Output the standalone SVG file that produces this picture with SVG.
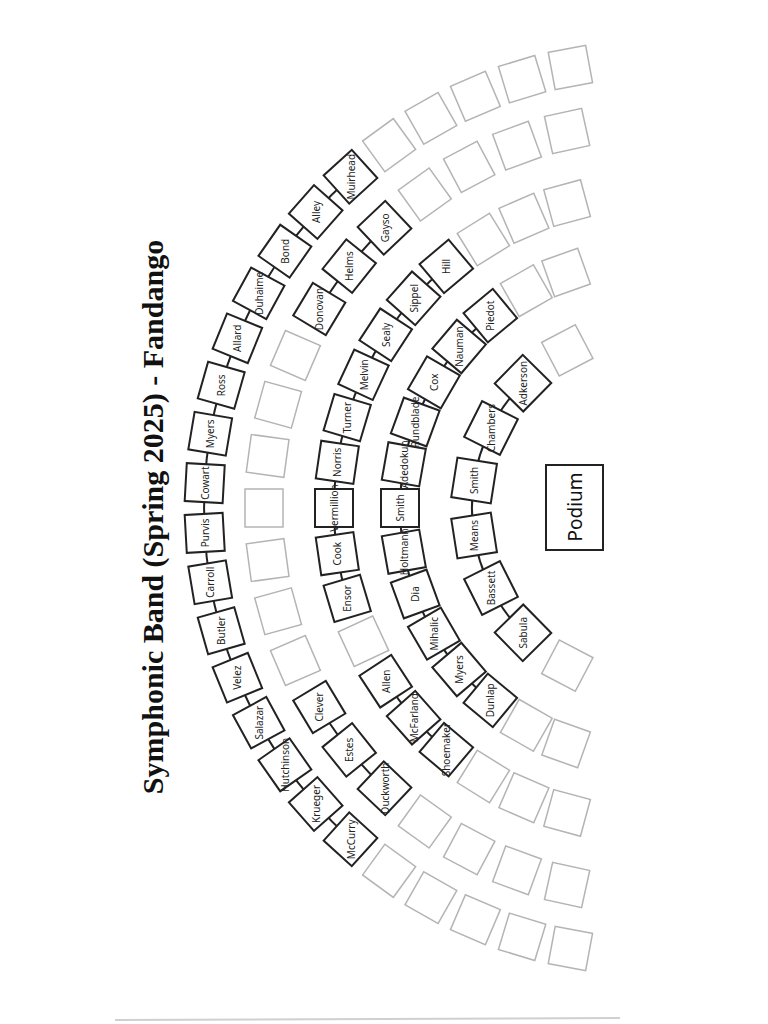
<svg xmlns="http://www.w3.org/2000/svg" width="768" height="1024" viewBox="0 0 768 1024">
<style>
.b{fill:#fff;stroke:#222;stroke-width:2}
.e{fill:#fff;stroke:#b4b4b4;stroke-width:1.5}
.t{font-family:"Noto Sans","DejaVu Sans",sans-serif;font-size:10px;fill:#222;text-anchor:middle;dominant-baseline:central}
.c{fill:none;stroke:#222;stroke-width:2}
</style>
<rect width="768" height="1024" fill="#fff"/>
<line x1="115" y1="1020" x2="620" y2="1018" stroke="#d0d0d0" stroke-width="2"/>
<text id="title" transform="translate(163,517) rotate(-90)" font-family="Liberation Serif,serif" font-weight="bold" font-size="30" text-anchor="middle" fill="#111">Symphonic Band (Spring 2025) - Fandango</text>
<g id="podium"><rect x="546" y="465" width="57" height="85" fill="#fff" stroke="#222" stroke-width="2"/><text transform="translate(575,507) rotate(-90)" font-family="Noto Sans,sans-serif" font-size="19" text-anchor="middle" dominant-baseline="central" fill="#111">Podium</text></g>
<g id="connectors">
<path class="c" d="M350.5,176.7 A448,448 0 0 0 350.5,839.3"/>
<path class="c" d="M384.5,227.8 A386,386 0 0 0 319.3,309"/>
<path class="c" d="M319.3,707 A386,386 0 0 0 384.5,788.2"/>
<path class="c" d="M446.3,266.4 A316,316 0 0 0 347.2,598.4"/>
<path class="c" d="M385.7,681.2 A316,316 0 0 0 446.3,749.6"/>
<path class="c" d="M490.3,315.7 A250,250 0 0 0 490.3,700.3"/>
<path class="c" d="M523,383.2 A178,178 0 0 0 523,632.8"/>
</g>
<g id="empty-seats">
<rect class="e" x="-19" y="-19" width="38" height="38" transform="translate(570.4,67.5) rotate(79.5)"/>
<rect class="e" x="-19" y="-19" width="38" height="38" transform="translate(522.1,79.2) rotate(73.14)"/>
<rect class="e" x="-19" y="-19" width="38" height="38" transform="translate(475.4,96.3) rotate(66.78)"/>
<rect class="e" x="-19" y="-19" width="38" height="38" transform="translate(430.9,118.4) rotate(60.42)"/>
<rect class="e" x="-19" y="-19" width="38" height="38" transform="translate(389.1,145.2) rotate(54.06)"/>
<rect class="e" x="-19" y="-19" width="38" height="38" transform="translate(389.1,870.8) rotate(-54.06)"/>
<rect class="e" x="-19" y="-19" width="38" height="38" transform="translate(430.9,897.6) rotate(-60.42)"/>
<rect class="e" x="-19" y="-19" width="38" height="38" transform="translate(475.4,919.7) rotate(-66.78)"/>
<rect class="e" x="-19" y="-19" width="38" height="38" transform="translate(522.1,936.8) rotate(-73.14)"/>
<rect class="e" x="-19" y="-19" width="38" height="38" transform="translate(570.4,948.5) rotate(-79.5)"/>
<rect class="e" x="-19" y="-19" width="38" height="38" transform="translate(567.1,131) rotate(77.6)"/>
<rect class="e" x="-19" y="-19" width="38" height="38" transform="translate(517,145.7) rotate(69.84)"/>
<rect class="e" x="-19" y="-19" width="38" height="38" transform="translate(469.2,166.9) rotate(62.08)"/>
<rect class="e" x="-19" y="-19" width="38" height="38" transform="translate(424.8,194.5) rotate(54.32)"/>
<rect class="e" x="-19" y="-19" width="38" height="38" transform="translate(295.4,355.5) rotate(23.28)"/>
<rect class="e" x="-19" y="-19" width="38" height="38" transform="translate(278.1,404.7) rotate(15.52)"/>
<rect class="e" x="-19" y="-19" width="38" height="38" transform="translate(267.6,455.9) rotate(7.76)"/>
<rect class="e" x="-19" y="-19" width="38" height="38" transform="translate(264,508)"/>
<rect class="e" x="-19" y="-19" width="38" height="38" transform="translate(267.6,560.1) rotate(-7.76)"/>
<rect class="e" x="-19" y="-19" width="38" height="38" transform="translate(278.1,611.3) rotate(-15.52)"/>
<rect class="e" x="-19" y="-19" width="38" height="38" transform="translate(295.4,660.5) rotate(-23.28)"/>
<rect class="e" x="-19" y="-19" width="38" height="38" transform="translate(424.8,821.5) rotate(-54.32)"/>
<rect class="e" x="-19" y="-19" width="38" height="38" transform="translate(469.2,849.1) rotate(-62.08)"/>
<rect class="e" x="-19" y="-19" width="38" height="38" transform="translate(517,870.3) rotate(-69.84)"/>
<rect class="e" x="-19" y="-19" width="38" height="38" transform="translate(567.1,885) rotate(-77.6)"/>
<rect class="e" x="-19" y="-19" width="38" height="38" transform="translate(567.1,203.1) rotate(74.8)"/>
<rect class="e" x="-19" y="-19" width="38" height="38" transform="translate(523.9,218.2) rotate(66.49)"/>
<rect class="e" x="-19" y="-19" width="38" height="38" transform="translate(483.4,239.5) rotate(58.18)"/>
<rect class="e" x="-19" y="-19" width="38" height="38" transform="translate(363.5,641.2) rotate(-24.93)"/>
<rect class="e" x="-19" y="-19" width="38" height="38" transform="translate(483.4,776.5) rotate(-58.18)"/>
<rect class="e" x="-19" y="-19" width="38" height="38" transform="translate(523.9,797.8) rotate(-66.49)"/>
<rect class="e" x="-19" y="-19" width="38" height="38" transform="translate(567.1,812.9) rotate(-74.8)"/>
<rect class="e" x="-19" y="-19" width="38" height="38" transform="translate(566.1,272.5) rotate(70.4)"/>
<rect class="e" x="-19" y="-19" width="38" height="38" transform="translate(526.3,290.7) rotate(60.34)"/>
<rect class="e" x="-19" y="-19" width="38" height="38" transform="translate(526.3,725.3) rotate(-60.34)"/>
<rect class="e" x="-19" y="-19" width="38" height="38" transform="translate(566.1,743.5) rotate(-70.4)"/>
<rect class="e" x="-19" y="-19" width="38" height="38" transform="translate(567.3,350.4) rotate(62.3)"/>
<rect class="e" x="-19" y="-19" width="38" height="38" transform="translate(567.3,665.6) rotate(-62.3)"/>
</g>
<g id="row1">
<g id="muirhead" transform="translate(350.5,176.7)"><rect class="b" x="-19" y="-19" width="38" height="38" transform="rotate(47.7)"/><text class="t" transform="rotate(-90)">Muirhead</text></g>
<g id="alley" transform="translate(315.7,212)"><rect class="b" x="-19" y="-19" width="38" height="38" transform="rotate(41.34)"/><text class="t" transform="rotate(-90)">Alley</text></g>
<g id="bond" transform="translate(284.9,251.2)"><rect class="b" x="-19" y="-19" width="38" height="38" transform="rotate(34.98)"/><text class="t" transform="rotate(-90)">Bond</text></g>
<g id="duhaime" transform="translate(258.7,293.3)"><rect class="b" x="-19" y="-19" width="38" height="38" transform="rotate(28.62)"/><text class="t" transform="rotate(-90)">Duhaime</text></g>
<g id="allard" transform="translate(237.4,338.3)"><rect class="b" x="-19" y="-19" width="38" height="38" transform="rotate(22.26)"/><text class="t" transform="rotate(-90)">Allard</text></g>
<g id="ross" transform="translate(221.2,385.3)"><rect class="b" x="-19" y="-19" width="38" height="38" transform="rotate(15.9)"/><text class="t" transform="rotate(-90)">Ross</text></g>
<g id="myers1" transform="translate(210.2,433.8)"><rect class="b" x="-19" y="-19" width="38" height="38" transform="rotate(9.54)"/><text class="t" transform="rotate(-90)">Myers</text></g>
<g id="cowart" transform="translate(204.7,483.1)"><rect class="b" x="-19" y="-19" width="38" height="38" transform="rotate(3.18)"/><text class="t" transform="rotate(-90)">Cowart</text></g>
<g id="purvis" transform="translate(204.7,532.9)"><rect class="b" x="-19" y="-19" width="38" height="38" transform="rotate(-3.18)"/><text class="t" transform="rotate(-90)">Purvis</text></g>
<g id="carroll" transform="translate(210.2,582.2)"><rect class="b" x="-19" y="-19" width="38" height="38" transform="rotate(-9.54)"/><text class="t" transform="rotate(-90)">Carroll</text></g>
<g id="butler" transform="translate(221.2,630.7)"><rect class="b" x="-19" y="-19" width="38" height="38" transform="rotate(-15.9)"/><text class="t" transform="rotate(-90)">Butler</text></g>
<g id="velez" transform="translate(237.4,677.7)"><rect class="b" x="-19" y="-19" width="38" height="38" transform="rotate(-22.26)"/><text class="t" transform="rotate(-90)">Velez</text></g>
<g id="salazar" transform="translate(258.7,722.7)"><rect class="b" x="-19" y="-19" width="38" height="38" transform="rotate(-28.62)"/><text class="t" transform="rotate(-90)">Salazar</text></g>
<g id="hutchinson" transform="translate(284.9,764.8)"><rect class="b" x="-19" y="-19" width="38" height="38" transform="rotate(-34.98)"/><text class="t" transform="rotate(-90)">Hutchinson</text></g>
<g id="krueger" transform="translate(315.7,804)"><rect class="b" x="-19" y="-19" width="38" height="38" transform="rotate(-41.34)"/><text class="t" transform="rotate(-90)">Krueger</text></g>
<g id="mccurry" transform="translate(350.5,839.3)"><rect class="b" x="-19" y="-19" width="38" height="38" transform="rotate(-47.7)"/><text class="t" transform="rotate(-90)">McCurry</text></g>
</g>
<g id="row2">
<g id="gayso" transform="translate(384.5,227.8)"><rect class="b" x="-19" y="-19" width="38" height="38" transform="rotate(46.56)"/><text class="t" transform="rotate(-90)">Gayso</text></g>
<g id="helms" transform="translate(349.2,266.1)"><rect class="b" x="-19" y="-19" width="38" height="38" transform="rotate(38.8)"/><text class="t" transform="rotate(-90)">Helms</text></g>
<g id="donovan" transform="translate(319.3,309)"><rect class="b" x="-19" y="-19" width="38" height="38" transform="rotate(31.04)"/><text class="t" transform="rotate(-90)">Donovan</text></g>
<g id="clever" transform="translate(319.3,707)"><rect class="b" x="-19" y="-19" width="38" height="38" transform="rotate(-31.04)"/><text class="t" transform="rotate(-90)">Clever</text></g>
<g id="estes" transform="translate(349.2,749.9)"><rect class="b" x="-19" y="-19" width="38" height="38" transform="rotate(-38.8)"/><text class="t" transform="rotate(-90)">Estes</text></g>
<g id="duckworth" transform="translate(384.5,788.2)"><rect class="b" x="-19" y="-19" width="38" height="38" transform="rotate(-46.56)"/><text class="t" transform="rotate(-90)">Duckworth</text></g>
</g>
<g id="row3">
<g id="hill" transform="translate(446.3,266.4)"><rect class="b" x="-19" y="-19" width="38" height="38" transform="rotate(49.87)"/><text class="t" transform="rotate(-90)">Hill</text></g>
<g id="sippel" transform="translate(413.6,298.3)"><rect class="b" x="-19" y="-19" width="38" height="38" transform="rotate(41.56)"/><text class="t" transform="rotate(-90)">Sippel</text></g>
<g id="sealy" transform="translate(385.7,334.8)"><rect class="b" x="-19" y="-19" width="38" height="38" transform="rotate(33.24)"/><text class="t" transform="rotate(-90)">Sealy</text></g>
<g id="melvin" transform="translate(363.5,374.8)"><rect class="b" x="-19" y="-19" width="38" height="38" transform="rotate(24.93)"/><text class="t" transform="rotate(-90)">Melvin</text></g>
<g id="turner" transform="translate(347.2,417.6)"><rect class="b" x="-19" y="-19" width="38" height="38" transform="rotate(16.62)"/><text class="t" transform="rotate(-90)">Turner</text></g>
<g id="norris" transform="translate(337.3,462.3)"><rect class="b" x="-19" y="-19" width="38" height="38" transform="rotate(8.31)"/><text class="t" transform="rotate(-90)">Norris</text></g>
<g id="vermillion" transform="translate(334,508)"><rect class="b" x="-19" y="-19" width="38" height="38"/><text class="t" transform="rotate(-90)">Vermillion</text></g>
<g id="cook" transform="translate(337.3,553.7)"><rect class="b" x="-19" y="-19" width="38" height="38" transform="rotate(-8.31)"/><text class="t" transform="rotate(-90)">Cook</text></g>
<g id="ensor" transform="translate(347.2,598.4)"><rect class="b" x="-19" y="-19" width="38" height="38" transform="rotate(-16.62)"/><text class="t" transform="rotate(-90)">Ensor</text></g>
<g id="allen" transform="translate(385.7,681.2)"><rect class="b" x="-19" y="-19" width="38" height="38" transform="rotate(-33.24)"/><text class="t" transform="rotate(-90)">Allen</text></g>
<g id="mcfarland" transform="translate(413.6,717.7)"><rect class="b" x="-19" y="-19" width="38" height="38" transform="rotate(-41.56)"/><text class="t" transform="rotate(-90)">McFarland</text></g>
<g id="shoemaker" transform="translate(446.3,749.6)"><rect class="b" x="-19" y="-19" width="38" height="38" transform="rotate(-49.87)"/><text class="t" transform="rotate(-90)">Shoemaker</text></g>
</g>
<g id="row4">
<g id="piedot" transform="translate(490.3,315.7)"><rect class="b" x="-19" y="-19" width="38" height="38" transform="rotate(50.29)"/><text class="t" transform="rotate(-90)">Piedot</text></g>
<g id="nauman" transform="translate(459.1,346.5)"><rect class="b" x="-19" y="-19" width="38" height="38" transform="rotate(40.23)"/><text class="t" transform="rotate(-90)">Nauman</text></g>
<g id="cox" transform="translate(433.9,382.3)"><rect class="b" x="-19" y="-19" width="38" height="38" transform="rotate(30.17)"/><text class="t" transform="rotate(-90)">Cox</text></g>
<g id="rundblade" transform="translate(415.2,422)"><rect class="b" x="-19" y="-19" width="38" height="38" transform="rotate(20.11)"/><text class="t" transform="rotate(-90)">Rundblade</text></g>
<g id="adedokun" transform="translate(403.8,464.3)"><rect class="b" x="-19" y="-19" width="38" height="38" transform="rotate(10.06)"/><text class="t" transform="rotate(-90)">Adedokun</text></g>
<g id="smith1" transform="translate(400,508)"><rect class="b" x="-19" y="-19" width="38" height="38"/><text class="t" transform="rotate(-90)">Smith</text></g>
<g id="holtmann" transform="translate(403.8,551.7)"><rect class="b" x="-19" y="-19" width="38" height="38" transform="rotate(-10.06)"/><text class="t" transform="rotate(-90)">Holtmann</text></g>
<g id="dia" transform="translate(415.2,594)"><rect class="b" x="-19" y="-19" width="38" height="38" transform="rotate(-20.11)"/><text class="t" transform="rotate(-90)">Dia</text></g>
<g id="mihalic" transform="translate(433.9,633.7)"><rect class="b" x="-19" y="-19" width="38" height="38" transform="rotate(-30.17)"/><text class="t" transform="rotate(-90)">Mihalic</text></g>
<g id="myers2" transform="translate(459.1,669.5)"><rect class="b" x="-19" y="-19" width="38" height="38" transform="rotate(-40.23)"/><text class="t" transform="rotate(-90)">Myers</text></g>
<g id="dunlap" transform="translate(490.3,700.3)"><rect class="b" x="-19" y="-19" width="38" height="38" transform="rotate(-50.29)"/><text class="t" transform="rotate(-90)">Dunlap</text></g>
</g>
<g id="row5">
<g id="adkerson" transform="translate(523,383.2)"><rect class="b" x="-20" y="-20" width="40" height="40" transform="rotate(44.5)"/><text class="t" transform="rotate(-90)">Adkerson</text></g>
<g id="chambers" transform="translate(491,428)"><rect class="b" x="-20" y="-20" width="40" height="40" transform="rotate(26.7)"/><text class="t" transform="rotate(-90)">Chambers</text></g>
<g id="smith2" transform="translate(474.1,480.5)"><rect class="b" x="-20" y="-20" width="40" height="40" transform="rotate(8.9)"/><text class="t" transform="rotate(-90)">Smith</text></g>
<g id="means" transform="translate(474.1,535.5)"><rect class="b" x="-20" y="-20" width="40" height="40" transform="rotate(-8.9)"/><text class="t" transform="rotate(-90)">Means</text></g>
<g id="bassett" transform="translate(491,588)"><rect class="b" x="-20" y="-20" width="40" height="40" transform="rotate(-26.7)"/><text class="t" transform="rotate(-90)">Bassett</text></g>
<g id="sabula" transform="translate(523,632.8)"><rect class="b" x="-20" y="-20" width="40" height="40" transform="rotate(-44.5)"/><text class="t" transform="rotate(-90)">Sabula</text></g>
</g>
</svg>
